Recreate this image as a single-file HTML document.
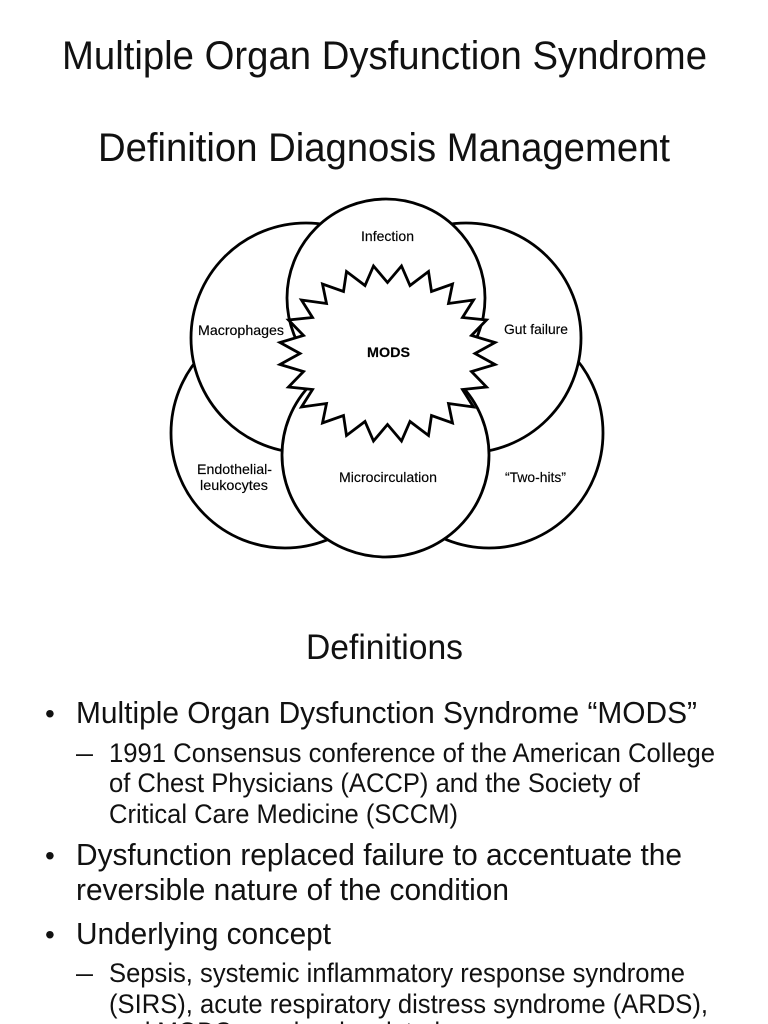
<!DOCTYPE html>
<html><head><meta charset="utf-8"><style>
html,body{margin:0;padding:0;background:#fff;width:768px;height:1024px;overflow:hidden}
svg{display:block}
text{font-family:"Liberation Sans",sans-serif;fill:#111}
.d{fill:#fff;stroke:#000;stroke-width:2.8}
.l{font-size:14px;fill:#000;stroke:#000;stroke-width:.15}
</style></head><body>
<svg width="768" height="1024" viewBox="0 0 768 1024">
<defs>
<filter id="b" x="-5%" y="-5%" width="110%" height="110%"><feGaussianBlur stdDeviation="0.3"/></filter>
<filter id="c" x="-5%" y="-20%" width="110%" height="140%"><feGaussianBlur stdDeviation="0.2"/></filter>
</defs>
<rect width="768" height="1024" fill="#fff"/>
<text x="62" y="69" font-size="40" textLength="645" lengthAdjust="spacingAndGlyphs">Multiple Organ Dysfunction Syndrome</text>
<text x="98" y="161" font-size="40" textLength="572" lengthAdjust="spacingAndGlyphs">Definition Diagnosis Management</text>
<g filter="url(#b)">
<ellipse class="d" cx="285" cy="433" rx="114" ry="115"/>
<ellipse class="d" cx="489" cy="433" rx="114" ry="115"/>
<ellipse class="d" cx="306" cy="338" rx="115" ry="115"/>
<ellipse class="d" cx="466" cy="338" rx="115" ry="115"/>
<ellipse class="d" cx="386" cy="298" rx="99" ry="99"/>
<ellipse class="d" cx="385.5" cy="455" rx="103.5" ry="102"/>
<polygon class="d" stroke-linejoin="miter" stroke-miterlimit="3" points="387.5,282.5 401.5,266 410,285.5 428.5,271.5 431.5,291.5 452.5,284 448.5,303.5 473.5,300 462.5,317.5 486.5,320 471.5,335.5 495,342.5 475,353.5 495,364.5 471.5,371.5 486.5,387 462.5,389.5 473.5,407 448.5,403.5 452.5,423 431.5,415.5 428.5,435.5 410,421.5 401.5,441 387.5,424.5 373.5,441 365,421.5 346.5,435.5 343.5,415.5 322.5,423 326.5,403.5 301.5,407 312.5,389.5 288.5,387 303.5,371.5 280,364.5 300,353.5 280,342.5 303.5,335.5 288.5,320 312.5,317.5 301.5,300 326.5,303.5 322.5,284 343.5,291.5 346.5,271.5 365,285.5 373.5,266"/>
</g>
<g filter="url(#c)">
<text class="l" x="361" y="241" textLength="53" lengthAdjust="spacingAndGlyphs">Infection</text>
<text class="l" x="198" y="335" textLength="86" lengthAdjust="spacingAndGlyphs">Macrophages</text>
<text class="l" x="504" y="334" textLength="64" lengthAdjust="spacingAndGlyphs">Gut failure</text>
<text class="l" x="367" y="357" font-weight="bold" textLength="43" lengthAdjust="spacingAndGlyphs">MODS</text>
<text class="l" x="197" y="474" textLength="75" lengthAdjust="spacingAndGlyphs">Endothelial-</text>
<text class="l" x="200" y="490" textLength="68" lengthAdjust="spacingAndGlyphs">leukocytes</text>
<text class="l" x="339" y="482" textLength="98" lengthAdjust="spacingAndGlyphs">Microcirculation</text>
<text class="l" x="505" y="482" textLength="61" lengthAdjust="spacingAndGlyphs">“Two-hits”</text>
</g>
<text x="306" y="659" font-size="35" textLength="157" lengthAdjust="spacingAndGlyphs">Definitions</text>
<text x="45" y="723" font-size="28">•</text>
<text x="76" y="723" font-size="31" textLength="621" lengthAdjust="spacingAndGlyphs">Multiple Organ Dysfunction Syndrome “MODS”</text>
<text x="76" y="762" font-size="27" textLength="17" lengthAdjust="spacingAndGlyphs">–</text>
<text x="109" y="762" font-size="27" textLength="606" lengthAdjust="spacingAndGlyphs">1991 Consensus conference of the American College</text>
<text x="109" y="792" font-size="27" textLength="531" lengthAdjust="spacingAndGlyphs">of Chest Physicians (ACCP) and the Society of</text>
<text x="109" y="823" font-size="27" textLength="349" lengthAdjust="spacingAndGlyphs">Critical Care Medicine (SCCM)</text>
<text x="45" y="865" font-size="28">•</text>
<text x="76" y="865" font-size="31" textLength="606" lengthAdjust="spacingAndGlyphs">Dysfunction replaced failure to accentuate the</text>
<text x="76" y="900" font-size="31" textLength="433" lengthAdjust="spacingAndGlyphs">reversible nature of the condition</text>
<text x="45" y="944" font-size="28">•</text>
<text x="76" y="944" font-size="31" textLength="255" lengthAdjust="spacingAndGlyphs">Underlying concept</text>
<text x="76" y="982" font-size="27" textLength="17" lengthAdjust="spacingAndGlyphs">–</text>
<text x="109" y="982" font-size="27" textLength="576" lengthAdjust="spacingAndGlyphs">Sepsis, systemic inflammatory response syndrome</text>
<text x="109" y="1013" font-size="27" textLength="599" lengthAdjust="spacingAndGlyphs">(SIRS), acute respiratory distress syndrome (ARDS),</text>
<text x="109" y="1041" font-size="27" textLength="331" lengthAdjust="spacingAndGlyphs">and MODS are closely related</text>
</svg>
</body></html>
